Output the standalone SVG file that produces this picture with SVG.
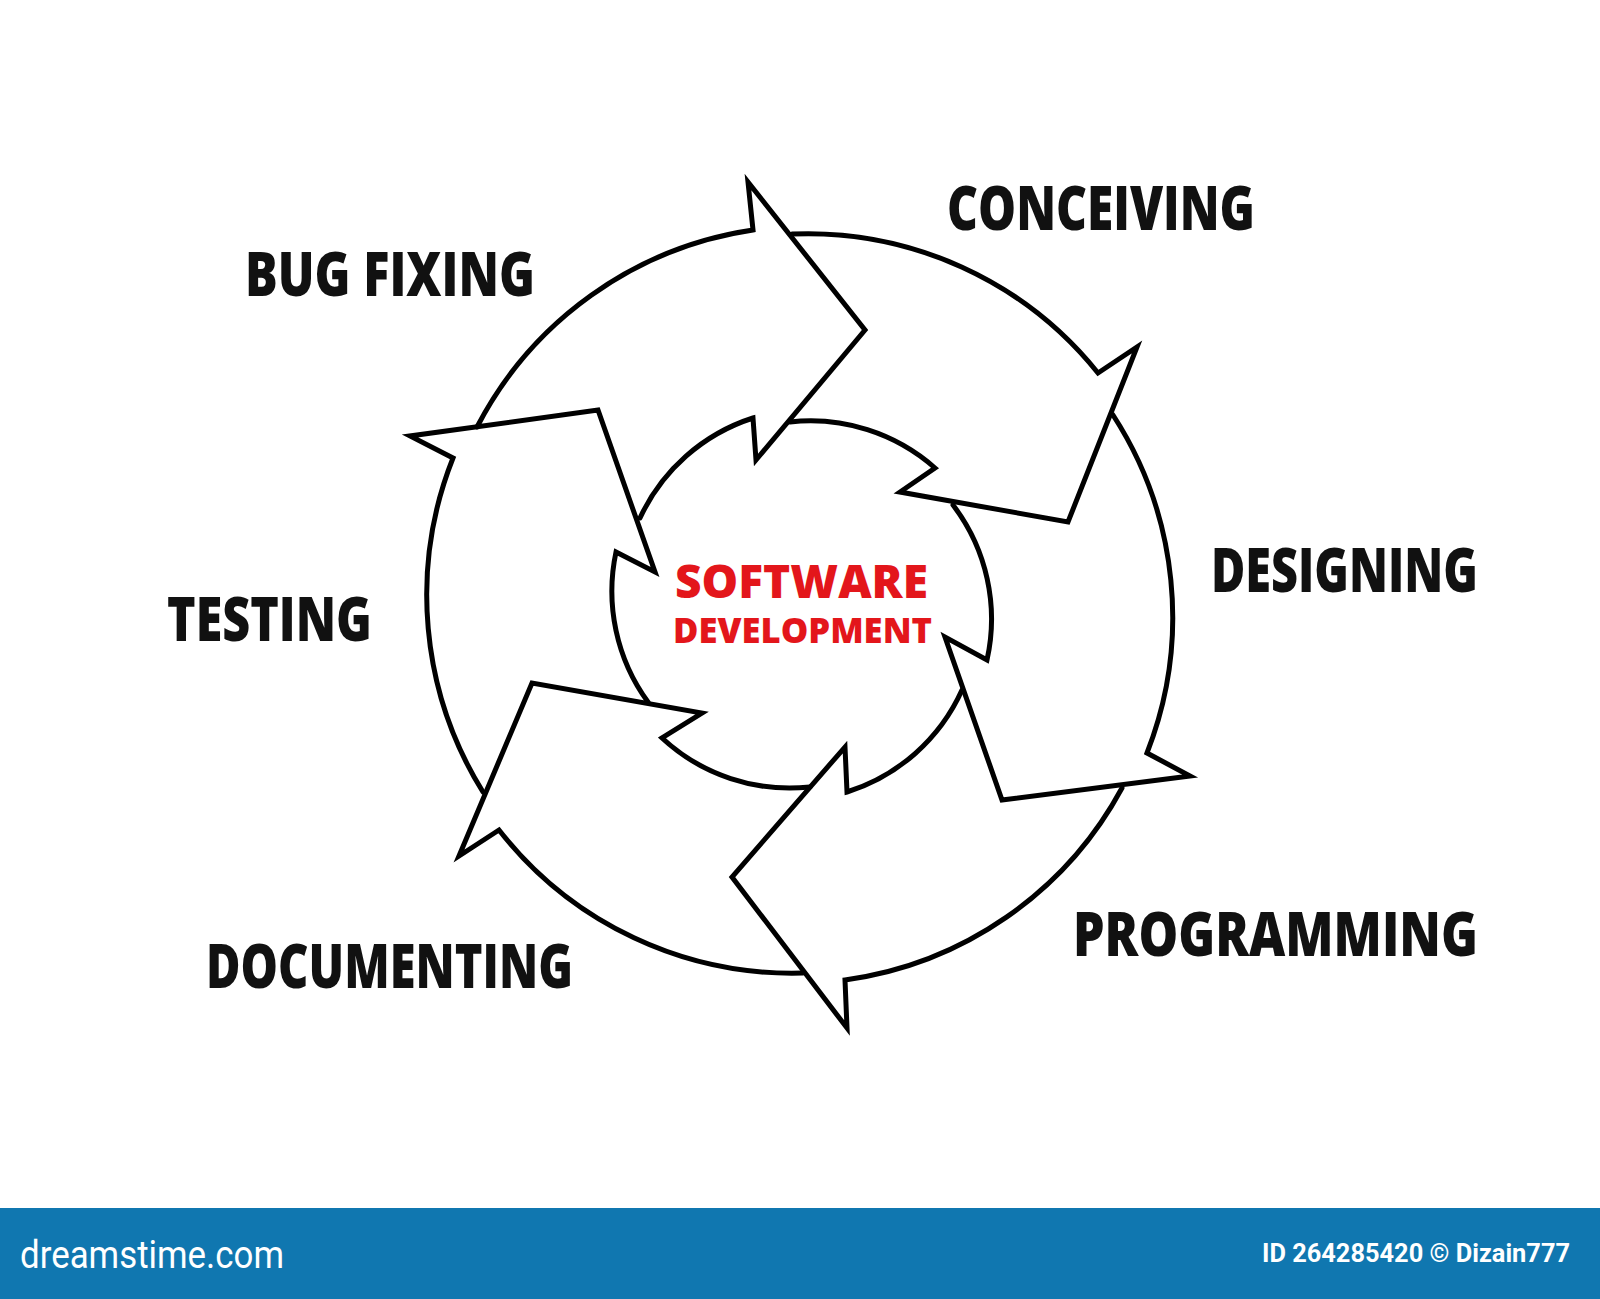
<svg xmlns="http://www.w3.org/2000/svg" width="1600" height="1299" viewBox="0 0 1600 1299">
<style>
.arrow{fill:none;stroke:#000;stroke-width:5;stroke-linejoin:miter;stroke-miterlimit:12;stroke-linecap:round}
.label{font-family:"Open Sans","Liberation Sans",sans-serif;font-weight:800;font-size:62px;fill:#111}
.center{font-family:"Open Sans","Liberation Sans",sans-serif;font-weight:800;fill:#E3161B}
.foot{font-family:Roboto,"Liberation Sans",sans-serif;fill:#fff}
</style>
<rect x="0" y="0" width="1600" height="1299" fill="#fff"/>
<g id="connectors">
  <path id="arrow-conceiving" class="arrow" d="M 477 427 A 372 372 0 0 1 753 230 L 748 182 L 865 330 L 756 460 L 753 418 A 188 188 0 0 0 640 518"/>
  <path id="arrow-designing" class="arrow" d="M 792 234 A 372 372 0 0 1 1098 373 L 1137 347 L 1068 522 L 900 492 L 935 468 A 188 188 0 0 0 790 422"/>
  <path id="arrow-programming" class="arrow" d="M 1113 415 A 372 372 0 0 1 1147 753 L 1190 776 L 1002 800 L 945 637 L 987 660 A 188 188 0 0 0 953 505"/>
  <path id="arrow-documenting" class="arrow" d="M 1122 788 A 372 372 0 0 1 845 980 L 847 1028 L 732 877 L 845 747 L 847 792 A 188 188 0 0 0 962 690"/>
  <path id="arrow-testing" class="arrow" d="M 803 973 A 372 372 0 0 1 499 830 L 459 856 L 532 683 L 702 713 L 662 738 A 188 188 0 0 0 810 787"/>
  <path id="arrow-bugfixing" class="arrow" d="M 483 792 A 372 372 0 0 1 453 458 L 410 436 L 598 410 L 655 572 L 616 552 A 188 188 0 0 0 648 702"/>
</g>
<g id="node-center">
  <text class="center" x="675" y="598" font-size="46" textLength="253" lengthAdjust="spacingAndGlyphs">SOFTWARE</text>
  <text class="center" x="673" y="643" font-size="35" textLength="259" lengthAdjust="spacingAndGlyphs">DEVELOPMENT</text>
</g>
<g id="node-conceiving"><text class="label" x="947" y="230" textLength="308" lengthAdjust="spacingAndGlyphs">CONCEIVING</text></g>
<g id="node-designing"><text class="label" x="1211" y="592" textLength="267" lengthAdjust="spacingAndGlyphs">DESIGNING</text></g>
<g id="node-programming"><text class="label" x="1073" y="956" textLength="405" lengthAdjust="spacingAndGlyphs">PROGRAMMING</text></g>
<g id="node-documenting"><text class="label" x="206" y="988" textLength="367" lengthAdjust="spacingAndGlyphs">DOCUMENTING</text></g>
<g id="node-testing"><text class="label" x="167" y="641" textLength="205" lengthAdjust="spacingAndGlyphs">TESTING</text></g>
<g id="node-bugfixing"><text class="label" x="245" y="296" textLength="290" lengthAdjust="spacingAndGlyphs">BUG FIXING</text></g>
<g id="footer">
  <rect x="0" y="1208" width="1600" height="91" fill="#1077B0"/>
  <text class="foot" x="20" y="1268" font-size="38" textLength="264" lengthAdjust="spacingAndGlyphs">dreamstime.com</text>
  <text class="foot" x="1262" y="1262" font-size="26" font-weight="700" textLength="308" lengthAdjust="spacingAndGlyphs">ID 264285420 © Dizain777</text>
</g>
</svg>
